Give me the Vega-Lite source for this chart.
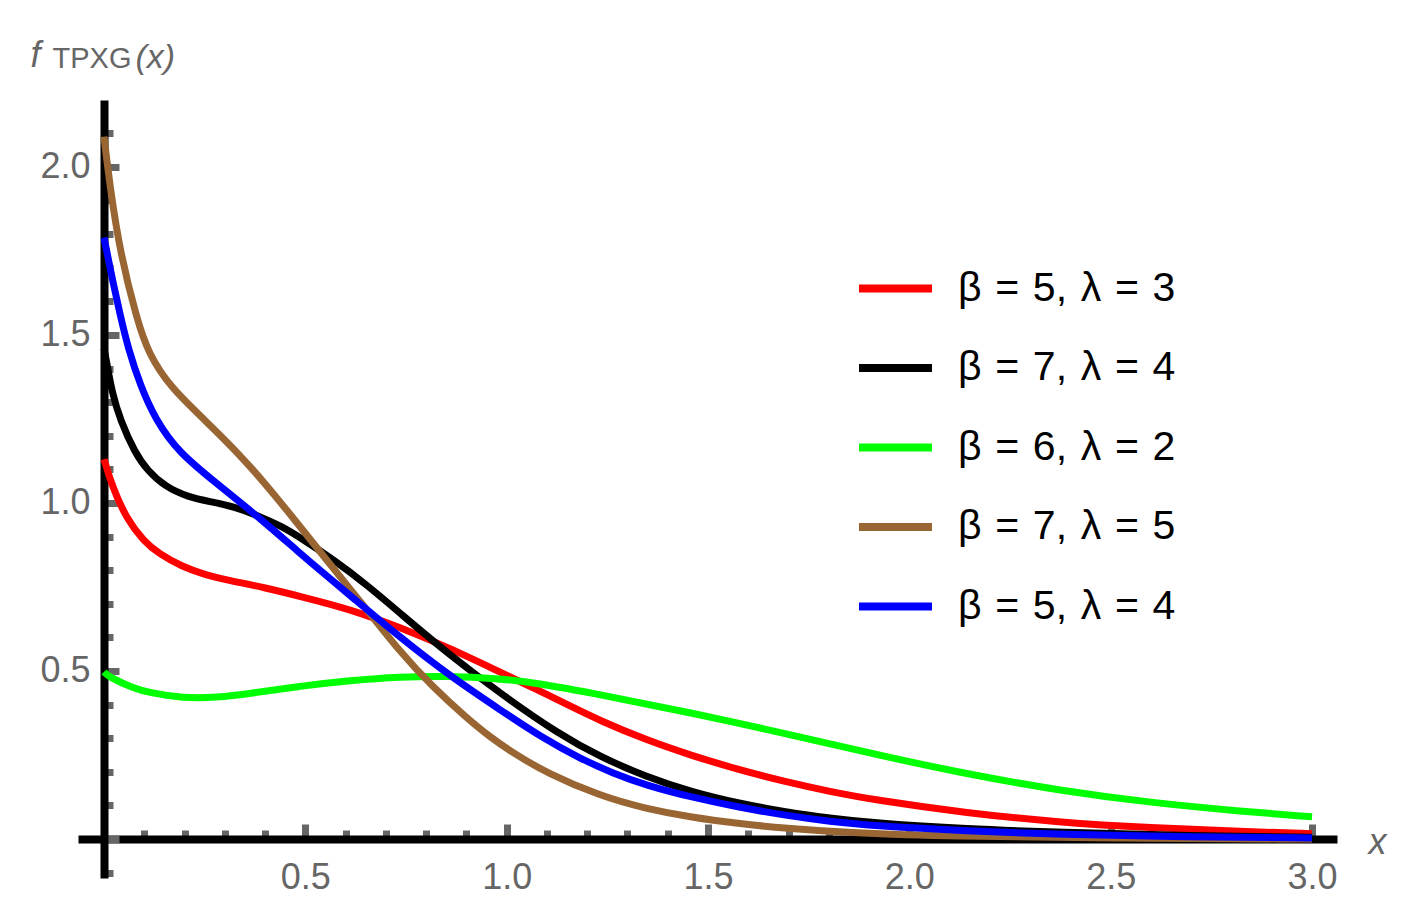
{
  "$schema": "https://vega.github.io/schema/vega-lite/v6.json",
  "width": 1259,
  "height": 778,
  "autosize": "none",
  "padding": {"left": 78, "top": 100, "right": 71, "bottom": 45},
  "background": "white",
  "config": {
    "view": {"stroke": null},
    "axis": {"grid": false, "zindex": 1, "labelFont": "Liberation Sans", "titleFont": "Liberation Sans", "labelColor": "#666666", "tickColor": "#666666", "titleColor": "#666666", "titleFontWeight": "normal", "labelOverlap": false, "labelFlush": false, "labelBound": false}
  },
  "datasets": {
    "curves": [
      {"s": "β\u2004=\u20045,\u2004λ\u2004=\u20043", "x": 0, "y": 1.13}, {"s": "β\u2004=\u20045,\u2004λ\u2004=\u20043", "x": 0.02, "y": 1.05}, {"s": "β\u2004=\u20045,\u2004λ\u2004=\u20043", "x": 0.057, "y": 0.95},
      {"s": "β\u2004=\u20045,\u2004λ\u2004=\u20043", "x": 0.1, "y": 0.885}, {"s": "β\u2004=\u20045,\u2004λ\u2004=\u20043", "x": 0.134, "y": 0.851}, {"s": "β\u2004=\u20045,\u2004λ\u2004=\u20043", "x": 0.194, "y": 0.81},
      {"s": "β\u2004=\u20045,\u2004λ\u2004=\u20043", "x": 0.25, "y": 0.787}, {"s": "β\u2004=\u20045,\u2004λ\u2004=\u20043", "x": 0.3, "y": 0.772}, {"s": "β\u2004=\u20045,\u2004λ\u2004=\u20043", "x": 0.4, "y": 0.748},
      {"s": "β\u2004=\u20045,\u2004λ\u2004=\u20043", "x": 0.487, "y": 0.722}, {"s": "β\u2004=\u20045,\u2004λ\u2004=\u20043", "x": 0.611, "y": 0.684}, {"s": "β\u2004=\u20045,\u2004λ\u2004=\u20043", "x": 0.735, "y": 0.63},
      {"s": "β\u2004=\u20045,\u2004λ\u2004=\u20043", "x": 0.859, "y": 0.568}, {"s": "β\u2004=\u20045,\u2004λ\u2004=\u20043", "x": 0.983, "y": 0.497}, {"s": "β\u2004=\u20045,\u2004λ\u2004=\u20043", "x": 1.066, "y": 0.45},
      {"s": "β\u2004=\u20045,\u2004λ\u2004=\u20043", "x": 1.15, "y": 0.4}, {"s": "β\u2004=\u20045,\u2004λ\u2004=\u20043", "x": 1.232, "y": 0.352}, {"s": "β\u2004=\u20045,\u2004λ\u2004=\u20043", "x": 1.346, "y": 0.295},
      {"s": "β\u2004=\u20045,\u2004λ\u2004=\u20043", "x": 1.46, "y": 0.248}, {"s": "β\u2004=\u20045,\u2004λ\u2004=\u20043", "x": 1.574, "y": 0.207}, {"s": "β\u2004=\u20045,\u2004λ\u2004=\u20043", "x": 1.689, "y": 0.171},
      {"s": "β\u2004=\u20045,\u2004λ\u2004=\u20043", "x": 1.803, "y": 0.141}, {"s": "β\u2004=\u20045,\u2004λ\u2004=\u20043", "x": 1.915, "y": 0.116}, {"s": "β\u2004=\u20045,\u2004λ\u2004=\u20043", "x": 2.143, "y": 0.077},
      {"s": "β\u2004=\u20045,\u2004λ\u2004=\u20043", "x": 2.37, "y": 0.05}, {"s": "β\u2004=\u20045,\u2004λ\u2004=\u20043", "x": 2.6, "y": 0.033}, {"s": "β\u2004=\u20045,\u2004λ\u2004=\u20043", "x": 2.83, "y": 0.022},
      {"s": "β\u2004=\u20045,\u2004λ\u2004=\u20043", "x": 3.0, "y": 0.016},

      {"s": "β\u2004=\u20047,\u2004λ\u2004=\u20044", "x": 0, "y": 1.46}, {"s": "β\u2004=\u20047,\u2004λ\u2004=\u20044", "x": 0.01, "y": 1.396}, {"s": "β\u2004=\u20047,\u2004λ\u2004=\u20044", "x": 0.02, "y": 1.33},
      {"s": "β\u2004=\u20047,\u2004λ\u2004=\u20044", "x": 0.04, "y": 1.247}, {"s": "β\u2004=\u20047,\u2004λ\u2004=\u20044", "x": 0.077, "y": 1.149}, {"s": "β\u2004=\u20047,\u2004λ\u2004=\u20044", "x": 0.107, "y": 1.098},
      {"s": "β\u2004=\u20047,\u2004λ\u2004=\u20044", "x": 0.152, "y": 1.048}, {"s": "β\u2004=\u20047,\u2004λ\u2004=\u20044", "x": 0.208, "y": 1.018}, {"s": "β\u2004=\u20047,\u2004λ\u2004=\u20044", "x": 0.267, "y": 1.003},
      {"s": "β\u2004=\u20047,\u2004λ\u2004=\u20044", "x": 0.325, "y": 0.988}, {"s": "β\u2004=\u20047,\u2004λ\u2004=\u20044", "x": 0.375, "y": 0.966}, {"s": "β\u2004=\u20047,\u2004λ\u2004=\u20044", "x": 0.442, "y": 0.93},
      {"s": "β\u2004=\u20047,\u2004λ\u2004=\u20044", "x": 0.491, "y": 0.894}, {"s": "β\u2004=\u20047,\u2004λ\u2004=\u20044", "x": 0.569, "y": 0.832}, {"s": "β\u2004=\u20047,\u2004λ\u2004=\u20044", "x": 0.653, "y": 0.756},
      {"s": "β\u2004=\u20047,\u2004λ\u2004=\u20044", "x": 0.735, "y": 0.672}, {"s": "β\u2004=\u20047,\u2004λ\u2004=\u20044", "x": 0.859, "y": 0.547}, {"s": "β\u2004=\u20047,\u2004λ\u2004=\u20044", "x": 0.983, "y": 0.434},
      {"s": "β\u2004=\u20047,\u2004λ\u2004=\u20044", "x": 1.132, "y": 0.31}, {"s": "β\u2004=\u20047,\u2004λ\u2004=\u20044", "x": 1.232, "y": 0.245}, {"s": "β\u2004=\u20047,\u2004λ\u2004=\u20044", "x": 1.346, "y": 0.185},
      {"s": "β\u2004=\u20047,\u2004λ\u2004=\u20044", "x": 1.46, "y": 0.14}, {"s": "β\u2004=\u20047,\u2004λ\u2004=\u20044", "x": 1.574, "y": 0.107}, {"s": "β\u2004=\u20047,\u2004λ\u2004=\u20044", "x": 1.689, "y": 0.081},
      {"s": "β\u2004=\u20047,\u2004λ\u2004=\u20044", "x": 1.803, "y": 0.062}, {"s": "β\u2004=\u20047,\u2004λ\u2004=\u20044", "x": 1.915, "y": 0.047}, {"s": "β\u2004=\u20047,\u2004λ\u2004=\u20044", "x": 2.143, "y": 0.03},
      {"s": "β\u2004=\u20047,\u2004λ\u2004=\u20044", "x": 2.37, "y": 0.02}, {"s": "β\u2004=\u20047,\u2004λ\u2004=\u20044", "x": 2.7, "y": 0.01}, {"s": "β\u2004=\u20047,\u2004λ\u2004=\u20044", "x": 3.0, "y": 0.005},

      {"s": "β\u2004=\u20046,\u2004λ\u2004=\u20042", "x": 0, "y": 0.497}, {"s": "β\u2004=\u20046,\u2004λ\u2004=\u20042", "x": 0.01, "y": 0.484}, {"s": "β\u2004=\u20046,\u2004λ\u2004=\u20042", "x": 0.072, "y": 0.449},
      {"s": "β\u2004=\u20046,\u2004λ\u2004=\u20042", "x": 0.114, "y": 0.435}, {"s": "β\u2004=\u20046,\u2004λ\u2004=\u20042", "x": 0.196, "y": 0.419}, {"s": "β\u2004=\u20046,\u2004λ\u2004=\u20042", "x": 0.28, "y": 0.421},
      {"s": "β\u2004=\u20046,\u2004λ\u2004=\u20042", "x": 0.363, "y": 0.433}, {"s": "β\u2004=\u20046,\u2004λ\u2004=\u20042", "x": 0.487, "y": 0.455}, {"s": "β\u2004=\u20046,\u2004λ\u2004=\u20042", "x": 0.611, "y": 0.472},
      {"s": "β\u2004=\u20046,\u2004λ\u2004=\u20042", "x": 0.735, "y": 0.483}, {"s": "β\u2004=\u20046,\u2004λ\u2004=\u20042", "x": 0.859, "y": 0.485}, {"s": "β\u2004=\u20046,\u2004λ\u2004=\u20042", "x": 0.975, "y": 0.478},
      {"s": "β\u2004=\u20046,\u2004λ\u2004=\u20042", "x": 1.066, "y": 0.466}, {"s": "β\u2004=\u20046,\u2004λ\u2004=\u20042", "x": 1.232, "y": 0.43}, {"s": "β\u2004=\u20046,\u2004λ\u2004=\u20042", "x": 1.46, "y": 0.375},
      {"s": "β\u2004=\u20046,\u2004λ\u2004=\u20042", "x": 1.689, "y": 0.315}, {"s": "β\u2004=\u20046,\u2004λ\u2004=\u20042", "x": 1.915, "y": 0.252}, {"s": "β\u2004=\u20046,\u2004λ\u2004=\u20042", "x": 2.143, "y": 0.193},
      {"s": "β\u2004=\u20046,\u2004λ\u2004=\u20042", "x": 2.37, "y": 0.145}, {"s": "β\u2004=\u20046,\u2004λ\u2004=\u20042", "x": 2.6, "y": 0.108}, {"s": "β\u2004=\u20046,\u2004λ\u2004=\u20042", "x": 2.83, "y": 0.082},
      {"s": "β\u2004=\u20046,\u2004λ\u2004=\u20042", "x": 3.0, "y": 0.066},

      {"s": "β\u2004=\u20047,\u2004λ\u2004=\u20045", "x": 0, "y": 2.09}, {"s": "β\u2004=\u20047,\u2004λ\u2004=\u20045", "x": 0.015, "y": 1.94}, {"s": "β\u2004=\u20047,\u2004λ\u2004=\u20045", "x": 0.04, "y": 1.744},
      {"s": "β\u2004=\u20047,\u2004λ\u2004=\u20045", "x": 0.082, "y": 1.545}, {"s": "β\u2004=\u20047,\u2004λ\u2004=\u20045", "x": 0.11, "y": 1.446}, {"s": "β\u2004=\u20047,\u2004λ\u2004=\u20045", "x": 0.164, "y": 1.345},
      {"s": "β\u2004=\u20047,\u2004λ\u2004=\u20045", "x": 0.25, "y": 1.247}, {"s": "β\u2004=\u20047,\u2004λ\u2004=\u20045", "x": 0.333, "y": 1.149}, {"s": "β\u2004=\u20047,\u2004λ\u2004=\u20045", "x": 0.407, "y": 1.048},
      {"s": "β\u2004=\u20047,\u2004λ\u2004=\u20045", "x": 0.474, "y": 0.949}, {"s": "β\u2004=\u20047,\u2004λ\u2004=\u20045", "x": 0.553, "y": 0.83}, {"s": "β\u2004=\u20047,\u2004λ\u2004=\u20045", "x": 0.653, "y": 0.682},
      {"s": "β\u2004=\u20047,\u2004λ\u2004=\u20045", "x": 0.735, "y": 0.557}, {"s": "β\u2004=\u20047,\u2004λ\u2004=\u20045", "x": 0.818, "y": 0.45}, {"s": "β\u2004=\u20047,\u2004λ\u2004=\u20045", "x": 0.901, "y": 0.36},
      {"s": "β\u2004=\u20047,\u2004λ\u2004=\u20045", "x": 0.958, "y": 0.304}, {"s": "β\u2004=\u20047,\u2004λ\u2004=\u20045", "x": 1.016, "y": 0.256}, {"s": "β\u2004=\u20047,\u2004λ\u2004=\u20045", "x": 1.1, "y": 0.196},
      {"s": "β\u2004=\u20047,\u2004λ\u2004=\u20045", "x": 1.232, "y": 0.128}, {"s": "β\u2004=\u20047,\u2004λ\u2004=\u20045", "x": 1.346, "y": 0.09}, {"s": "β\u2004=\u20047,\u2004λ\u2004=\u20045", "x": 1.46, "y": 0.064},
      {"s": "β\u2004=\u20047,\u2004λ\u2004=\u20045", "x": 1.574, "y": 0.046}, {"s": "β\u2004=\u20047,\u2004λ\u2004=\u20045", "x": 1.689, "y": 0.032}, {"s": "β\u2004=\u20047,\u2004λ\u2004=\u20045", "x": 1.86, "y": 0.018},
      {"s": "β\u2004=\u20047,\u2004λ\u2004=\u20045", "x": 2.1, "y": 0.008}, {"s": "β\u2004=\u20047,\u2004λ\u2004=\u20045", "x": 2.5, "y": 0.002}, {"s": "β\u2004=\u20047,\u2004λ\u2004=\u20045", "x": 3.0, "y": 0.0},

      {"s": "β\u2004=\u20045,\u2004λ\u2004=\u20044", "x": 0, "y": 1.79}, {"s": "β\u2004=\u20045,\u2004λ\u2004=\u20044", "x": 0.01, "y": 1.73}, {"s": "β\u2004=\u20045,\u2004λ\u2004=\u20044", "x": 0.02, "y": 1.67},
      {"s": "β\u2004=\u20045,\u2004λ\u2004=\u20044", "x": 0.04, "y": 1.56}, {"s": "β\u2004=\u20045,\u2004λ\u2004=\u20044", "x": 0.06, "y": 1.46}, {"s": "β\u2004=\u20045,\u2004λ\u2004=\u20044", "x": 0.09, "y": 1.35},
      {"s": "β\u2004=\u20045,\u2004λ\u2004=\u20044", "x": 0.127, "y": 1.25}, {"s": "β\u2004=\u20045,\u2004λ\u2004=\u20044", "x": 0.185, "y": 1.15}, {"s": "β\u2004=\u20045,\u2004λ\u2004=\u20044", "x": 0.283, "y": 1.055},
      {"s": "β\u2004=\u20045,\u2004λ\u2004=\u20044", "x": 0.392, "y": 0.95}, {"s": "β\u2004=\u20045,\u2004λ\u2004=\u20044", "x": 0.487, "y": 0.85}, {"s": "β\u2004=\u20045,\u2004λ\u2004=\u20044", "x": 0.541, "y": 0.795},
      {"s": "β\u2004=\u20045,\u2004λ\u2004=\u20044", "x": 0.611, "y": 0.725}, {"s": "β\u2004=\u20045,\u2004λ\u2004=\u20044", "x": 0.735, "y": 0.6}, {"s": "β\u2004=\u20045,\u2004λ\u2004=\u20044", "x": 0.859, "y": 0.485},
      {"s": "β\u2004=\u20045,\u2004λ\u2004=\u20044", "x": 0.983, "y": 0.385}, {"s": "β\u2004=\u20045,\u2004λ\u2004=\u20044", "x": 1.09, "y": 0.3}, {"s": "β\u2004=\u20045,\u2004λ\u2004=\u20044", "x": 1.182, "y": 0.24},
      {"s": "β\u2004=\u20045,\u2004λ\u2004=\u20044", "x": 1.265, "y": 0.195}, {"s": "β\u2004=\u20045,\u2004λ\u2004=\u20044", "x": 1.346, "y": 0.16}, {"s": "β\u2004=\u20045,\u2004λ\u2004=\u20044", "x": 1.46, "y": 0.124},
      {"s": "β\u2004=\u20045,\u2004λ\u2004=\u20044", "x": 1.574, "y": 0.095}, {"s": "β\u2004=\u20045,\u2004λ\u2004=\u20044", "x": 1.689, "y": 0.071}, {"s": "β\u2004=\u20045,\u2004λ\u2004=\u20044", "x": 1.803, "y": 0.052},
      {"s": "β\u2004=\u20045,\u2004λ\u2004=\u20044", "x": 1.915, "y": 0.039}, {"s": "β\u2004=\u20045,\u2004λ\u2004=\u20044", "x": 2.143, "y": 0.024}, {"s": "β\u2004=\u20045,\u2004λ\u2004=\u20044", "x": 2.37, "y": 0.014},
      {"s": "β\u2004=\u20045,\u2004λ\u2004=\u20044", "x": 2.7, "y": 0.006}, {"s": "β\u2004=\u20045,\u2004λ\u2004=\u20044", "x": 3.0, "y": 0.003}
    ]
  },
  "data": {"name": "curves"},
  "layer": [
    {
      "mark": {"type": "line", "strokeWidth": 7, "interpolate": "basis"},
      "encoding": {
        "x": {
          "field": "x", "type": "quantitative",
          "scale": {"domain": [-0.0646, 3.062], "nice": false, "zero": false},
          "axis": {
            "orient": "bottom", "offset": -39, "values": [0.5, 1, 1.5, 2, 2.5, 3], "format": ".1f",
            "labelFontSize": 36, "labelPadding": 36, "tickSize": -15, "tickWidth": 7,
            "domain": false,
            "title": "x", "titleFontSize": 36, "titleFontStyle": "italic", "titleAngle": 0,
            "titleAlign": "left", "titleBaseline": "alphabetic", "titleX": 1290, "titleY": 14
          }
        },
        "y": {
          "field": "y", "type": "quantitative",
          "scale": {"domain": [-0.116, 2.199], "nice": false, "zero": false},
          "axis": {
            "orient": "left", "offset": -26, "values": [0, 0.5, 1, 1.5, 2],
            "labelExpr": "datum.value == 0 ? '' : format(datum.value, '.1f')",
            "labelFontSize": 36, "labelPadding": 29, "tickSize": -15, "tickWidth": 7,
            "domain": false,
            "title": "f", "titleFontSize": 36, "titleFontStyle": "italic", "titleAngle": 0,
            "titleAlign": "left", "titleBaseline": "alphabetic", "titleX": -74, "titleY": -34
          }
        },
        "color": {
          "field": "s", "type": "nominal",
          "scale": {
            "domain": ["β\u2004=\u20045,\u2004λ\u2004=\u20043", "β\u2004=\u20047,\u2004λ\u2004=\u20044", "β\u2004=\u20046,\u2004λ\u2004=\u20042", "β\u2004=\u20047,\u2004λ\u2004=\u20045", "β\u2004=\u20045,\u2004λ\u2004=\u20044"],
            "range": ["#ff0000", "#000000", "#00ff00", "#996633", "#0000ff"]
          },
          "legend": {
            "title": null, "orient": "none", "legendX": 777, "legendY": 148, "padding": 0,
            "symbolType": "stroke", "symbolSize": 5329, "symbolStrokeWidth": 8,
            "labelFont": "Liberation Sans", "labelFontSize": 41, "labelColor": "black", "labelLimit": 0,
            "labelOffset": 22, "rowPadding": 18.5
          }
        }
      }
    },
    {
      "mark": {"type": "line", "opacity": 0},
      "encoding": {
        "x": {
          "field": "x", "type": "quantitative",
          "axis": {
            "orient": "bottom", "offset": -39,
            "values": [0.1, 0.2, 0.3, 0.4, 0.6, 0.7, 0.8, 0.9, 1.1, 1.2, 1.3, 1.4, 1.6, 1.7, 1.8, 1.9, 2.1, 2.2, 2.3, 2.4, 2.6, 2.7, 2.8, 2.9],
            "labels": false, "tickSize": -9, "tickWidth": 7,
            "domainColor": "black", "domainWidth": 8,
            "title": "(x)", "titleFontSize": 34, "titleFontStyle": "italic", "titleAngle": 0,
            "titleAlign": "left", "titleBaseline": "alphabetic", "titleX": 57, "titleY": -772
          }
        },
        "y": {
          "field": "y", "type": "quantitative",
          "axis": {
            "orient": "left", "offset": -26,
            "values": [-0.1, 0, 0.1, 0.2, 0.3, 0.4, 0.6, 0.7, 0.8, 0.9, 1.1, 1.2, 1.3, 1.4, 1.6, 1.7, 1.8, 1.9, 2.1, 2.2],
            "labels": false, "tickSize": -9, "tickWidth": 7,
            "domainColor": "black", "domainWidth": 8,
            "title": "TPXG", "titleFontSize": 29, "titleAngle": 0,
            "titleAlign": "left", "titleBaseline": "alphabetic", "titleX": -52, "titleY": -33
          }
        }
      }
    }
  ],
  "resolve": {"axis": {"x": "independent", "y": "independent"}}
}
